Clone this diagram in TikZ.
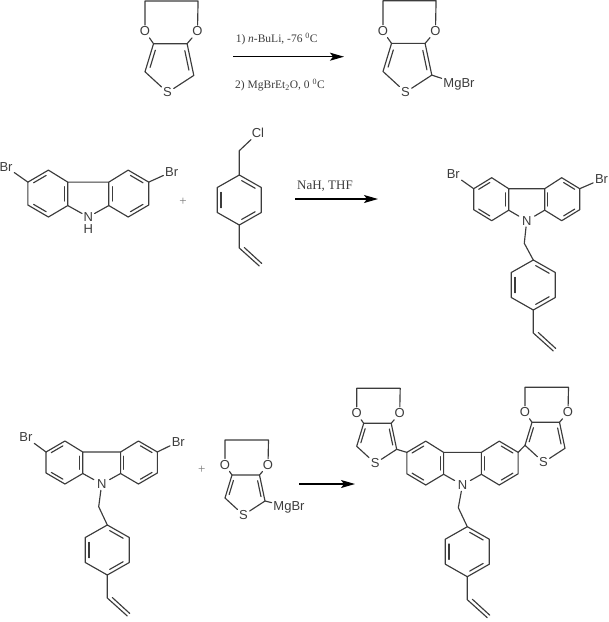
\documentclass[tikz,border=0pt]{standalone}
\usepackage{fontspec}
\setmainfont{Liberation Serif}
\newfontfamily\atomfont{Liberation Sans}
\usetikzlibrary{calc,arrows.meta}
\definecolor{ink}{HTML}{3C3C3C}
\tikzset{
  bond/.style={draw=ink,line width=1.15pt,line cap=round,line join=round},
  atom/.style={inner sep=1.6pt,text=ink,font=\atomfont\fontsize{13}{13}\selectfont},
  tightatom/.style={atom,inner sep=0pt},
  rxn/.style={draw=black,line width=1.3pt,-{Stealth[length=14pt,width=8pt,inset=3pt]}},
  cond/.style={inner sep=0pt,text=ink,font=\fontsize{11.5}{13}\selectfont},
  condbig/.style={inner sep=0pt,text=ink,font=\fontsize{13}{13}\selectfont},
  plus/.style={inner sep=0pt,text=ink!70,font=\fontsize{13}{13}\selectfont}
}
% inner line of a double bond: ends a, b; pulled towards ring centre c
\newcommand{\dbl}[3]{\draw[bond] ($($(#1)!.13!(#2)$)!.17!(#3)$) -- ($($(#2)!.13!(#1)$)!.17!(#3)$);}
% ethylenedioxythiophene: name, top-left x, y, scale
\newcommand{\edot}[4]{%
  \begin{scope}[shift={(#2,#3)},scale=#4]
    \coordinate (#1tl) at (0,0); \coordinate (#1tr) at (43.5,0);
    \node[atom] (#1ol) at (0,25) {O}; \node[atom] (#1or) at (43,25) {O};
    \coordinate (#1al) at (7,35); \coordinate (#1ar) at (34.5,35);
    \coordinate (#1bl) at (0,58); \coordinate (#1br) at (40,61);
    \node[atom] (#1s) at (18.5,75) {S};
    \coordinate (#1c) at (20,52);
  \end{scope}
  \draw[bond] (#1ol) -- (#1tl) -- (#1tr) -- (#1or);
  \draw[bond] (#1ol) -- (#1al) -- (#1ar) -- (#1or);
  \draw[bond] (#1al) -- (#1bl) -- (#1s) -- (#1br) -- (#1ar);
  \dbl{#1al}{#1bl}{#1c}\dbl{#1ar}{#1br}{#1c}}
% carbazole: name, N x, y, xscale, yscale, style of the N node
\newcommand{\carb}[6]{%
  \begin{scope}[shift={(#2,#3)},xscale=#4,yscale=#5]
    \node[#6] (#1N) at (0,0) {N};
    \coordinate (#1a) at (-18,-32); \coordinate (#1b) at (-18,-10.5);
    \coordinate (#1c) at (-35,0);   \coordinate (#1d) at (-53,-11);
    \coordinate (#1e) at (-53,-32); \coordinate (#1f) at (-35,-43);
    \coordinate (#1g) at (18,-32);  \coordinate (#1h) at (18,-10.5);
    \coordinate (#1i) at (35,0);    \coordinate (#1j) at (53,-11);
    \coordinate (#1k) at (53,-32);  \coordinate (#1l) at (35,-43);
    \coordinate (#1cl) at (-35,-21.5); \coordinate (#1cr) at (35,-21.5);
  \end{scope}
  \draw[bond] (#1a) -- (#1b) -- (#1c) -- (#1d) -- (#1e) -- (#1f) -- (#1a) -- (#1g) -- (#1h) -- (#1i) -- (#1j) -- (#1k) -- (#1l) -- (#1g);
  \draw[bond,shorten >=1.6pt] (#1b) -- (#1N);
  \draw[bond,shorten <=1.6pt] (#1N) -- (#1h);
  \dbl{#1e}{#1f}{#1cl}\dbl{#1a}{#1b}{#1cl}\dbl{#1c}{#1d}{#1cl}
  \dbl{#1k}{#1l}{#1cr}\dbl{#1g}{#1h}{#1cr}\dbl{#1i}{#1j}{#1cr}}
% 4-vinylphenyl: name, top x, y
\newcommand{\styr}[3]{%
  \begin{scope}[shift={(#2,#3)}]
    \coordinate (#1t) at (0,0); \coordinate (#1p) at (22,12.5); \coordinate (#1q) at (22,37.5);
    \coordinate (#1u) at (0,50); \coordinate (#1r) at (-22,37.5); \coordinate (#1s) at (-22,12.5);
    \coordinate (#1c) at (0,25);
    \coordinate (#1v) at (0,73); \coordinate (#1w) at (20,91);
    \coordinate (#1x) at (5,72.5); \coordinate (#1y) at (22.5,88.5);
  \end{scope}
  \draw[bond] (#1t) -- (#1p) -- (#1q) -- (#1u) -- (#1r) -- (#1s) -- (#1t);
  \draw[bond] (#1u) -- (#1v) -- (#1w);
  \draw[bond] (#1x) -- (#1y);
  \dbl{#1t}{#1p}{#1c}\dbl{#1q}{#1u}{#1c}\dbl{#1r}{#1s}{#1c}}
\begin{document}
\begin{tikzpicture}[x=1pt,y=-1pt]
\useasboundingbox (0,0) rectangle (609,622);
% --- first reaction
\edot{A}{145}{1}{1.22}
\edot{B}{383}{0.7}{1.22}
\node[atom] (Bm) at (459,84) {MgBr};
\draw[bond] (Bbr) -- (Bm);
\coordinate (r1s) at (233,56.7); \coordinate (r1e) at (344,56.7);
\draw[rxn] (r1s) -- (r1e);
\node[cond] (c1) at (276.7,39) {1) \textit{n}-BuLi, -76 \textsuperscript{0}C};
\node[cond] (c2) at (280,85) {2) MgBrEt\textsubscript{2}O, 0 \textsuperscript{0}C};
% --- second reaction
\carb{C}{88.3}{217}{1.14}{1.09}{tightatom}
\node[tightatom] (Ch) at (88.3,229.5) {H};
\node[atom] (Cbl) at (6,166.7) {Br};
\node[atom] (Cbr) at (171.7,171.7) {Br};
\draw[bond] (Ce) -- (Cbl);
\draw[bond] (Ck) -- (Cbr);
\node[plus] (p1) at (183,202) {+};
\styr{D}{239.3}{175}
\coordinate (Dm) at (239.3,150.7);
\node[atom] (Dcl) at (258,133) {Cl};
\draw[bond] (Dt) -- (Dm) -- (Dcl);
\coordinate (r2s) at (295,199); \coordinate (r2e) at (378,199);
\draw[rxn] (r2s) -- (r2e);
\node[condbig] (c3) at (325,186.5) {NaH, THF};
\carb{E}{526.7}{220.7}{1}{1}{atom}
\node[atom] (Ebl) at (453.3,174.3) {Br};
\node[atom] (Ebr) at (601.5,179.3) {Br};
\draw[bond] (Ee) -- (Ebl);
\draw[bond] (Ek) -- (Ebr);
\styr{F}{533.3}{260}
\coordinate (Fm) at (524.3,243.3);
\draw[bond] (EN) -- (Fm) -- (Ft);
% --- third reaction
\carb{G}{101.7}{484}{1.05}{1}{atom}
\node[atom] (Gbl) at (26,437.3) {Br};
\node[atom] (Gbr) at (178.3,441.7) {Br};
\draw[bond] (Ge) -- (Gbl);
\draw[bond] (Gk) -- (Gbr);
\styr{H}{107.3}{525}
\coordinate (Hm) at (98.7,506.7);
\draw[bond] (GN) -- (Hm) -- (Ht);
\node[plus] (p2) at (201.7,470) {+};
\edot{I}{225}{440}{1}
\node[atom] (Im) at (289,507) {MgBr};
\draw[bond] (Ibr) -- (Im);
\coordinate (r3s) at (299,484); \coordinate (r3e) at (355,484);
\draw[rxn] (r3s) -- (r3e);
\carb{J}{462.5}{485}{1.05}{1.02}{atom}
\edot{K}{356.7}{388.3}{1}
\edot{L}{525}{387.3}{1}
\draw[bond] (Kbr) -- (Je);
\draw[bond] (Lbl) -- (Jk);
\styr{M}{467.3}{526.7}
\coordinate (Mm) at (458.3,507.7);
\draw[bond] (JN) -- (Mm) -- (Mt);
\end{tikzpicture}
\end{document}
